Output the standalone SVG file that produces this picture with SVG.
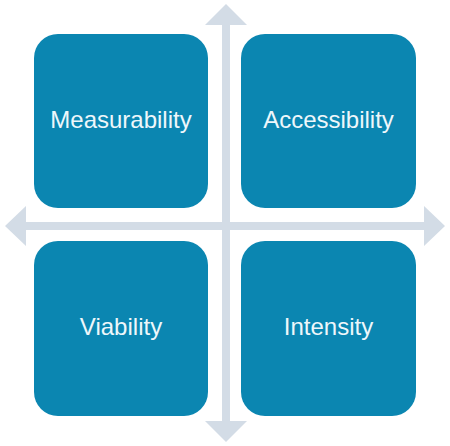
<svg xmlns="http://www.w3.org/2000/svg" width="450" height="446" viewBox="0 0 450 446">
<style>
.box{fill:#0b86b1}
.lbl{font-family:"Liberation Sans",Arial,sans-serif;font-size:24px;fill:#eef7fb;text-anchor:middle}
.ax{fill:#d3dce6}
</style>
<rect width="450" height="446" fill="#ffffff"/>
<g id="connectors">
<path class="ax" d="M222,25 H205 L226,4 L247,25 H230 V421 H247 L226,442 L205,421 H222 Z"/>
<path class="ax" d="M26,222 V206 L5,226 L26,246 V230 H424 V246 L445,226 L424,206 V222 Z"/>
</g>
<g id="measurability"><rect class="box" x="34" y="34" width="174" height="174" rx="24"/><text class="lbl" x="121" y="128">Measurability</text></g>
<g id="accessibility"><rect class="box" x="241" y="34" width="175" height="174" rx="24"/><text class="lbl" x="328.5" y="128">Accessibility</text></g>
<g id="viability"><rect class="box" x="34" y="241" width="174" height="175" rx="24"/><text class="lbl" x="121" y="335">Viability</text></g>
<g id="intensity"><rect class="box" x="241" y="241" width="175" height="175" rx="24"/><text class="lbl" x="328.5" y="335">Intensity</text></g>
</svg>
